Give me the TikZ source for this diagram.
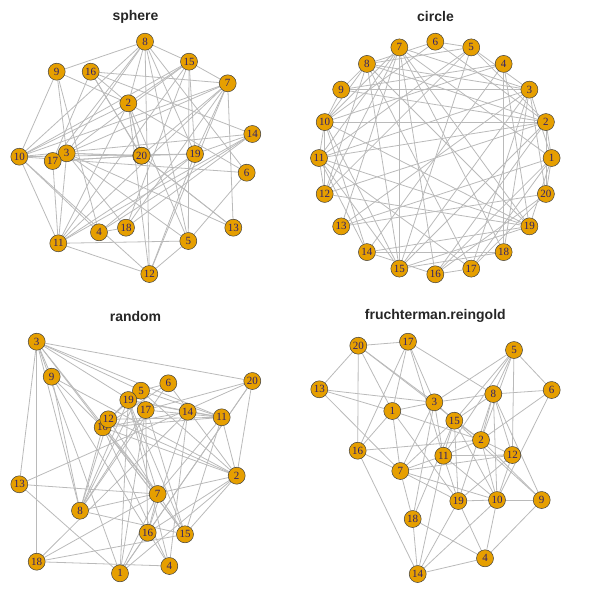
\documentclass[tikz,border=0pt]{standalone}
\usepackage{fontspec}
\setmainfont{Liberation Serif}
\setsansfont{Liberation Sans}
\usetikzlibrary{backgrounds}

\definecolor{vertexfill}{HTML}{E69F00}
\definecolor{labelblue}{HTML}{2E1F6B}
\definecolor{edgegray}{HTML}{BABABA}

% same graph, four layouts
\def\edgelist{20/17, 20/13, 20/16, 20/1, 20/3, 20/2,
  17/16, 17/1, 17/3, 17/11, 17/8,
  13/3, 13/1, 13/7,
  1/3, 1/7, 1/16, 1/2, 1/19,
  16/2, 16/7, 16/14,
  7/18, 7/11, 7/12, 7/19, 7/10, 7/3, 7/15,
  3/8, 3/5, 3/15, 3/11, 3/18, 3/9,
  8/5, 8/6, 8/15, 8/2, 8/19, 8/10, 8/12, 8/9,
  6/5, 6/2, 6/10,
  5/2, 5/12, 5/15, 5/11,
  15/11, 15/19, 15/18, 15/10, 15/2,
  2/11, 2/12, 2/10, 2/9,
  11/12, 11/19, 11/10, 11/14,
  12/10, 12/19,
  19/10, 19/4, 19/14,
  10/9, 10/4, 10/14,
  9/4, 18/14, 18/4, 14/4}

\begin{document}
\begin{tikzpicture}[x=1pt, y=-1pt,
        vertex/.style={circle, draw=black!75, line width=0.5pt, fill=vertexfill, inner sep=0pt, minimum size=17pt, text=labelblue, font=\fontsize{11}{11}\selectfont},
        edge/.style={draw=edgegray, line width=0.8pt},
        paneltitle/.style={font=\sffamily\bfseries\fontsize{14}{14}\selectfont, text=black!85}
    ]
    \useasboundingbox (0,0) rectangle (591,598);

    % Titles
    \node[paneltitle] (tsphere) at (135.5,16.5) {sphere};
    \node[paneltitle] (tcircle) at (435.5,16.5) {circle};
    \node[paneltitle] (trandom) at (135.5,316) {random};
    \node[paneltitle] (tfr) at (435.3,316) {fruchterman.reingold};

    % sphere
    \foreach \n/\x/\y in {1/141.2/155.7, 2/128.3/103.3, 3/66.7/153.3, 4/99/232.3, 5/188.3/241,
        6/246.7/172.7, 7/227.7/83.3, 8/145/41.7, 9/56.7/71.7, 10/19.3/156.7,
        11/58.3/243.3, 12/149.3/274, 13/233.3/227.7, 14/252.3/134, 15/189/61.7,
        16/90.7/71.7, 17/52.7/161, 18/126/227.7, 19/195/154, 20/141.7/155.7}
        \node[vertex] (s\n) at (\x,\y) {\n};

    % circle
    \foreach \n in {1,...,20}
        \node[vertex] (c\n) at ({435.3+116.3*cos((\n-1)*18)}, {158-116.3*sin((\n-1)*18)}) {\n};

    % random
    \foreach \n/\x/\y in {1/120/573.3, 2/236.7/475.7, 3/36.7/341.7, 4/169.3/566, 5/141/390.7,
        6/168.3/383.3, 7/157.7/494, 8/80/510.7, 9/51.7/376.7, 10/102.7/427.3,
        11/221.7/417.3, 12/108.3/419.3, 13/19.3/484.3, 14/187.7/411.7, 15/185/534.3,
        16/147.7/532.7, 17/145.7/410, 18/36.7/561.7, 19/128.3/400, 20/252.3/381}
        \node[vertex] (r\n) at (\x,\y) {\n};

    % fruchterman.reingold
    \foreach \n/\x/\y in {1/392.3/411, 2/481/440, 3/434.3/402.3, 4/485/558.3, 5/514/350,
        6/551.7/390, 7/400.3/471, 8/493.3/394, 9/541.7/500, 10/497/500,
        11/443.3/455.7, 12/512.3/455, 13/319.3/389.3, 14/417.7/574, 15/454.3/420.7,
        16/357.7/450.7, 17/408/341.7, 18/412.7/519, 19/458.3/501, 20/358.3/345.7}
        \node[vertex] (f\n) at (\x,\y) {\n};

    % Edges
    \begin{pgfonlayer}{background}
        \foreach \a/\b in \edgelist {
            \draw[edge] (s\a) -- (s\b);
            \draw[edge] (c\a) -- (c\b);
            \draw[edge] (r\a) -- (r\b);
            \draw[edge] (f\a) -- (f\b);
        }
    \end{pgfonlayer}
\end{tikzpicture}
\end{document}
